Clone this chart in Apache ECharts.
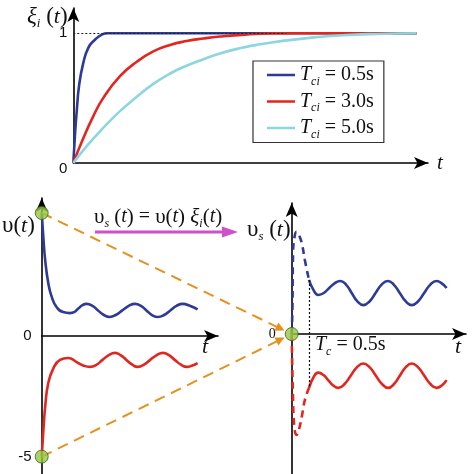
<!DOCTYPE html>
<html><head><meta charset="utf-8">
<script src="https://cdn.jsdelivr.net/npm/echarts@6/dist/echarts.min.js"></script>
<style>html,body{margin:0;padding:0;background:#fff}#c{width:474px;height:474px}</style>
</head><body><div id="c"></div>
<script>
// ---------- data ----------
// top panel: xi_i(t) for three time constants (arbitrary t units)
const legendValues = ['0.5', '3.0', '5.0'];
const xiFast = [[0,0],[0.05,0.22],[0.10,0.40],[0.17,0.60],[0.29,0.77],[0.44,0.89],[0.63,0.95],[0.83,0.99],[1.0,1.0],[2,1.0],[10,1.0]];
const xiMid  = [[0,0],[0.29,0.19],[0.58,0.36],[0.87,0.50],[1.36,0.67],[1.85,0.78],[2.33,0.86],[2.82,0.91],[3.30,0.94],[3.79,0.96],[4.27,0.975],[5.0,0.99],[5.93,1.0],[10,1.0]];
const xiSlow = [[0,0],[0.39,0.13],[0.87,0.27],[1.36,0.40],[1.85,0.51],[2.33,0.61],[2.82,0.69],[3.30,0.75],[3.79,0.80],[4.27,0.845],[4.95,0.89],[5.44,0.915],[5.92,0.935],[6.89,0.965],[7.85,0.985],[8.84,0.995],[10,1.0]];
const xiRef = 1;
// bottom-left panel: v(t)
const vPos = [[0,5.10],[0.05,4.05],[0.10,3.15],[0.19,2.20],[0.29,1.62],[0.43,1.20],[0.62,0.99],[0.82,0.95],[0.94,0.99],[1.06,1.14],[1.18,1.28],[1.30,1.33],[1.47,1.25],[1.63,1.06],[1.80,0.87],[1.97,0.79],[2.14,0.87],[2.33,1.06],[2.52,1.25],[2.70,1.33],[2.87,1.25],[3.03,1.06],[3.19,0.87],[3.36,0.79],[3.54,0.87],[3.72,1.06],[3.90,1.25],[4.08,1.33],[4.30,1.24],[4.51,1.10]];
const vNeg = [[0,-5.0],[0.02,-4.55],[0.05,-3.89],[0.10,-2.94],[0.19,-1.95],[0.34,-1.33],[0.53,-0.99],[0.77,-0.91],[1.01,-1.08],[1.20,-1.22],[1.40,-1.28],[1.58,-1.20],[1.76,-0.99],[1.94,-0.79],[2.12,-0.70],[2.28,-0.79],[2.45,-0.99],[2.62,-1.19],[2.78,-1.28],[2.96,-1.19],[3.14,-0.99],[3.33,-0.79],[3.51,-0.70],[3.68,-0.79],[3.85,-0.99],[4.03,-1.19],[4.20,-1.28],[4.36,-1.22],[4.51,-1.12]];
const vTicks = [-5, 0];
// bottom-right panel: v_s(t)
const Tc = 0.5;
const vsPosTrans = [[0,0],[0.02,0.99],[0.04,3.36],[0.08,4.0],[0.14,4.24],[0.21,4.10],[0.29,3.77],[0.38,3.07],[0.5,2.24]];
const vsPos = [[0.5,2.24],[0.62,1.85],[0.77,1.62],[0.93,1.70],[1.085,1.91],[1.24,2.10],[1.40,2.20],[1.57,2.05],[1.735,1.70],[1.90,1.35],[2.07,1.20],[2.25,1.35],[2.425,1.70],[2.60,2.05],[2.78,2.20],[2.95,2.05],[3.125,1.70],[3.30,1.35],[3.47,1.20],[3.65,1.35],[3.83,1.70],[4.01,2.05],[4.19,2.20],[4.34,2.10],[4.48,1.91]];
const vsNegTrans = [[0,0],[0.04,-2.74],[0.08,-3.90],[0.14,-4.18],[0.21,-3.95],[0.29,-3.44],[0.38,-2.74],[0.5,-2.24]];
const vsNeg = [[0.5,-2.24],[0.62,-1.82],[0.77,-1.60],[0.92,-1.70],[1.06,-1.92],[1.20,-2.13],[1.35,-2.23],[1.53,-2.07],[1.71,-1.72],[1.89,-1.37],[2.07,-1.22],[2.25,-1.37],[2.43,-1.72],[2.61,-2.07],[2.79,-2.23],[2.96,-2.07],[3.13,-1.72],[3.30,-1.37],[3.47,-1.22],[3.65,-1.37],[3.83,-1.72],[4.01,-2.07],[4.19,-2.23],[4.34,-2.13],[4.48,-1.91]];

// ---------- styles ----------
const SERIF = 'Liberation Serif', SANS = 'Liberation Sans';
const BLUE = '#2d3a96', RED = '#e0261e', CYAN = '#8cd6df', ORANGE = '#e3921f', MAGENTA = '#cf4fc8', GREEN = '#94c840';
const axisLine = {show: true, onZero: true, symbol: ['none', 'arrow'], symbolSize: [9, 14], lineStyle: {color: '#000', width: 1.6}};
const names = legendValues.map(v => 'Tci = ' + v + 's');

function xAx(grid, max, name) {
  return {type: 'value', gridIndex: grid, min: 0, max: max, axisLine: axisLine, axisTick: {show: false},
    axisLabel: {show: false}, splitLine: {show: false}, name: name || '', nameLocation: 'end', nameGap: 9,
    nameTextStyle: {fontFamily: SERIF, fontStyle: 'italic', fontSize: 21, color: '#111', padding: [12, 0, 0, 0]}};
}
function yAx(grid, min, max, ticks, labelOpt) {
  return Object.assign({type: 'value', gridIndex: grid, min: min, max: max, axisLine: axisLine,
    axisTick: {show: false}, splitLine: {show: false},
    axisLabel: Object.assign({show: true, customValues: ticks, color: '#111', fontFamily: SANS, fontSize: 15, margin: 8}, labelOpt || {})});
}
function line(name, data, xi, color, extra) {
  return Object.assign({type: 'line', name: name, data: data, xAxisIndex: xi, yAxisIndex: xi, showSymbol: false, symbol: 'none',
    smooth: 0.5, lineStyle: {color: color, width: 2.6}, itemStyle: {color: color}, silent: true}, extra || {});
}

const option = {
  animation: false,
  backgroundColor: '#fff',
  grid: [
    {left: 73.3, top: 8, width: 354.7, height: 155, outerBoundsMode: 'none'},
    {left: 41.7, top: 198, width: 176.3, height: 276, outerBoundsMode: 'none'},
    {left: 291.7, top: 203, width: 174.3, height: 271, outerBoundsMode: 'none'}
  ],
  xAxis: [xAx(0, 10.33, 't'), xAx(1, 5.10), xAx(2, 5.04)],
  yAxis: [
    yAx(0, 0, 1.195, [0, xiRef], {margin: 6, formatter: v => v === 0 ? '{z|0}' : String(v), rich: {z: {padding: [12, 0, 0, 0], fontFamily: SANS, fontSize: 15, color: '#111'}}}),
    yAx(1, -5.72, 5.72, vTicks, {margin: 10}),
    yAx(2, -5.80, 5.43, [0], {fontFamily: SERIF, fontSize: 14, margin: 16})
  ],
  legend: {
    data: names, orient: 'vertical', left: 253, top: 61, icon: 'rect',
    padding: [4, 10, 2, 14], itemWidth: 28, itemHeight: 2.5, itemGap: 4,
    borderColor: '#333', borderWidth: 1.2, backgroundColor: '#fff',
    formatter: n => '{T|T}{s|ci}{n| = ' + n.slice(6) + '}',
    textStyle: {color: '#111', rich: {
      T: {fontFamily: SERIF, fontStyle: 'italic', fontSize: 20, color: '#111'},
      s: {fontFamily: SERIF, fontStyle: 'italic', fontSize: 12, color: '#111', padding: [13, 0, 0, 0]},
      n: {fontFamily: SERIF, fontSize: 20, color: '#111'}
    }},
    selectedMode: false
  },
  series: [
    line(names[0], xiFast, 0, BLUE, {z: 3}),
    line(names[1], xiMid, 0, RED, {z: 4}),
    line(names[2], xiSlow, 0, CYAN, {z: 5, markLine: {silent: true, symbol: ['none', 'none'], label: {show: false},
      lineStyle: {color: '#222', width: 1, type: [2, 2]},
      data: [[{coord: [0, xiRef]}, {coord: [6.2, xiRef]}]]}}),
    line('vpos', vPos, 1, BLUE),
    line('vneg', vNeg, 1, RED),
    line('vsPosT', vsPosTrans, 2, BLUE, {lineStyle: {color: BLUE, width: 2.6, type: [7, 5]}}),
    line('vsPos', vsPos, 2, BLUE),
    line('vsNegT', vsNegTrans, 2, RED, {lineStyle: {color: RED, width: 2.6, type: [7, 5]}}),
    line('vsNeg', vsNeg, 2, RED, {markLine: {silent: true, symbol: ['none', 'none'], label: {show: false},
      lineStyle: {color: '#111', width: 1.2, type: [2, 2]},
      data: [[{coord: [Tc, vsPos[0][1]]}, {coord: [Tc, vsNeg[0][1]]}]]}}),
    {type: 'scatter', xAxisIndex: 1, yAxisIndex: 1, data: [vPos[0], vNeg[0]], symbolSize: 13, z: 10, silent: true,
      itemStyle: {color: GREEN, borderColor: '#4a5a1a', borderWidth: 1}},
    {type: 'scatter', xAxisIndex: 2, yAxisIndex: 2, data: [[0, 0]], symbolSize: 13, z: 10, silent: true,
      itemStyle: {color: GREEN, borderColor: '#4a5a1a', borderWidth: 1}}
  ]
};

const chart = echarts.init(document.getElementById('c'), null, {renderer: 'canvas'});
chart.setOption(option);

// ---------- annotations ----------
function arrowEls(a, b, shorten, head, halfW, color, width, dash) {
  const dx = b[0] - a[0], dy = b[1] - a[1], L = Math.hypot(dx, dy);
  const ux = dx / L, uy = dy / L;
  const tip = [b[0] - ux * shorten, b[1] - uy * shorten];
  const base = [tip[0] - ux * head, tip[1] - uy * head];
  return [
    {type: 'line', z: 6, silent: true, shape: {x1: a[0], y1: a[1], x2: base[0] + ux * 1, y2: base[1] + uy * 1},
      style: {stroke: color, lineWidth: width, lineDash: dash || null}},
    {type: 'polygon', z: 6, silent: true, shape: {points: [tip, [base[0] - uy * halfW, base[1] + ux * halfW], [base[0] + uy * halfW, base[1] - ux * halfW]]},
      style: {fill: color}}
  ];
}
const pTop = chart.convertToPixel({gridIndex: 1}, vPos[0]);
const pBot = chart.convertToPixel({gridIndex: 1}, vNeg[0]);
const pO = chart.convertToPixel({gridIndex: 2}, [0, 0]);

const sub = (fs) => ({fontFamily: SERIF, fontStyle: 'italic', fontSize: fs, color: '#111'});
const txt = (x, y, text, rich, align) => ({type: 'text', z: 8, silent: true, x: x, y: y,
  style: {text: text, rich: rich, align: align || 'left', verticalAlign: 'middle', fill: '#111'}});
const R = {
  g: {fontFamily: SERIF, fontSize: 23, color: '#111'},
  gi: {fontFamily: SERIF, fontStyle: 'italic', fontSize: 23, color: '#111'},
  p: {fontFamily: SERIF, fontSize: 23, color: '#111'},
  i: {fontFamily: SERIF, fontStyle: 'italic', fontSize: 22, color: '#111'},
  s: Object.assign(sub(13), {padding: [14, 0, 0, 0]}),
  n: {fontFamily: SERIF, fontSize: 20, color: '#111'},
  T: {fontFamily: SERIF, fontStyle: 'italic', fontSize: 20, color: '#111'},
  ts: Object.assign(sub(12), {padding: [13, 0, 0, 0]})
};
const F = {
  g: {fontFamily: SERIF, fontSize: 21, color: '#111'},
  gi: {fontFamily: SERIF, fontStyle: 'italic', fontSize: 21, color: '#111'},
  p: {fontFamily: SERIF, fontSize: 21, color: '#111'},
  i: {fontFamily: SERIF, fontStyle: 'italic', fontSize: 20, color: '#111'},
  s: Object.assign(sub(12), {padding: [13, 0, 0, 0]}),
  n: {fontFamily: SERIF, fontSize: 20, color: '#111'}
};

const graphics = []
  .concat(arrowEls(pTop, pO, 8, 9, 4.5, ORANGE, 2, [11, 7]))
  .concat(arrowEls(pBot, pO, 8, 9, 4.5, ORANGE, 2, [11, 7]))
  .concat(arrowEls([95, 232], [238, 232], 0, 16, 5.5, MAGENTA, 3.2))
  .concat([
    txt(27, 17, '{gi|ξ}{s|i}{p| (}{i|t}{p|)}', R),
    txt(2, 226, '{g|υ}{p|(}{i|t}{p|)}', R),
    txt(94, 217, '{g|υ}{s|s}{p| (}{i|t}{p|)}{n| = }{g|υ}{p|(}{i|t}{p|)}{gi| ξ}{s|i}{p|(}{i|t}{p|)}', F),
    txt(247, 230, '{g|υ}{s|s}{p| (}{i|t}{p|)}', R),
    txt(202, 347, '{i|t}', R),
    txt(455, 347, '{i|t}', R),
    txt(315, 345, '{T|T}{ts|c}{n| = ' + Tc.toFixed(1) + 's}', R)
  ]);
chart.setOption({graphic: {elements: graphics}});
</script>
</body></html>
